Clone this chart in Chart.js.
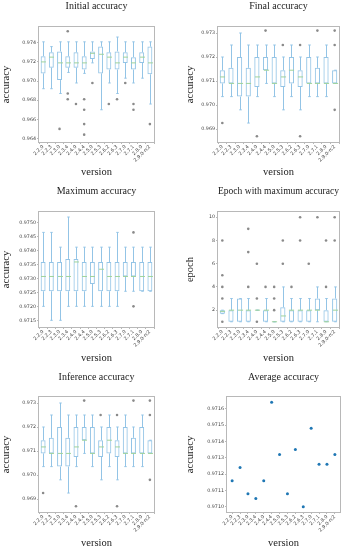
<!DOCTYPE html>
<html>
<head>
<meta charset="utf-8">
<script src="https://cdn.jsdelivr.net/npm/chart.js@4.4.0/dist/chart.umd.min.js"></script>
<style>
  body { margin: 0; background: #fff; }
  #wrap { position: relative; width: 346px; height: 550px; overflow: hidden; }
  canvas { position: absolute; }
</style>
</head>
<body>
<div id="wrap">
  <canvas id="initChart" width="173" height="181" style="left:0px;top:0px"></canvas>
  <canvas id="finalChart" width="162" height="181" style="left:184px;top:0px"></canvas>
  <canvas id="maxChart" width="173" height="181" style="left:0px;top:185px"></canvas>
  <canvas id="epochChart" width="162" height="181" style="left:184px;top:185px"></canvas>
  <canvas id="infChart" width="173" height="179" style="left:0px;top:371px"></canvas>
  <canvas id="avgChart" width="162" height="179" style="left:184px;top:371px"></canvas>
</div>
<script>
var versions = ['2.2.0', '2.2.3', '2.3.0', '2.3.4', '2.4.0', '2.4.4', '2.5.0', '2.5.3',
  '2.6.2', '2.6.3', '2.7.0', '2.7.1', '2.8.0', '2.9.0-rc2'];

// Initial accuracy
var initLo  = [0.9692, 0.9692, 0.9687, 0.9709, 0.9698, 0.9708, 0.9719, 0.9670, 0.9698, 0.9687, 0.9703, 0.9698, 0.9703, 0.9676];
var initQ1  = [0.9708, 0.9714, 0.9701, 0.9714, 0.9714, 0.9712, 0.9723, 0.9708, 0.9712, 0.9712, 0.9719, 0.9712, 0.9719, 0.9707];
var initMed = [0.9720, 0.9725, 0.9719, 0.9719, 0.9719, 0.9719, 0.9729, 0.9728, 0.9725, 0.9719, 0.9725, 0.9719, 0.9725, 0.9719];
var initQ3  = [0.9726, 0.9730, 0.9731, 0.9726, 0.9730, 0.9726, 0.9731, 0.9736, 0.9730, 0.9731, 0.9730, 0.9725, 0.9730, 0.9736];
var initHi  = [0.9741, 0.9736, 0.9741, 0.9741, 0.9741, 0.9741, 0.9741, 0.9741, 0.9741, 0.9746, 0.9741, 0.9741, 0.9741, 0.9741];
var initOut = [[], [], [0.9650], [0.9752, 0.9687, 0.9681], [0.9676], [0.9681, 0.9670, 0.9655, 0.9644], [0.9698], [],
  [0.9676], [0.9681], [0.9698], [0.9676, 0.9670], [], [0.9655]];

// Final accuracy
var finLo  = [0.97035, 0.97035, 0.9698, 0.96925, 0.97035, 0.9709, 0.97035, 0.9698, 0.97035, 0.9698, 0.97035, 0.97035, 0.97035, 0.9709];
var finQ1  = [0.9709, 0.9709, 0.97035, 0.97035, 0.97075, 0.97145, 0.9709, 0.97075, 0.9709, 0.97075, 0.9709, 0.9709, 0.9709, 0.9709];
var finMed = [0.97117, 0.9709, 0.9709, 0.9709, 0.97117, 0.97145, 0.9709, 0.97117, 0.97145, 0.97117, 0.9709, 0.9709, 0.9709, 0.9709];
var finQ3  = [0.97145, 0.97155, 0.9720, 0.97155, 0.9720, 0.9720, 0.9720, 0.97145, 0.9720, 0.97145, 0.9720, 0.97155, 0.9720, 0.97145];
var finHi  = [0.9720, 0.9725, 0.9730, 0.9725, 0.9725, 0.9725, 0.9725, 0.9720, 0.9725, 0.9720, 0.9725, 0.9720, 0.9725, 0.97145];
var finOut = [[0.96925], [], [], [], [0.9687], [0.9731], [], [0.9725], [], [0.9725, 0.9687], [], [0.9731], [], [0.9731, 0.9725, 0.9698]];

// Maximum accuracy
var maxLo  = [0.9720, 0.9715, 0.9715, 0.9720, 0.9720, 0.9720, 0.9720, 0.9720, 0.9720, 0.9720, 0.97254, 0.97254, 0.97254, 0.97254];
var maxQ1  = [0.97254, 0.97254, 0.97254, 0.97254, 0.97254, 0.97254, 0.9728, 0.97254, 0.97254, 0.97254, 0.97307, 0.97307, 0.97254, 0.97254];
var maxMed = [0.97307, 0.97307, 0.97307, 0.97307, 0.97359, 0.97307, 0.97307, 0.97333, 0.97307, 0.97307, 0.97307, 0.97307, 0.97307, 0.97307];
var maxQ3  = [0.97359, 0.97359, 0.97359, 0.9737, 0.9737, 0.97359, 0.97359, 0.97359, 0.97359, 0.97359, 0.97359, 0.97359, 0.97359, 0.97359];
var maxHi  = [0.97465, 0.97465, 0.97412, 0.9752, 0.97412, 0.97412, 0.97412, 0.97412, 0.97412, 0.97465, 0.97412, 0.97412, 0.97412, 0.97412];
var maxOut = [[], [], [], [], [], [], [], [], [], [], [], [0.97465, 0.9720], [], []];

// Epoch with maximum accuracy
var epLo  = [1.7, 1, 1, 1, 2, 1, 1, 1, 1, 1, 1, 1, 1, 1];
var epQ1  = [1.7, 1, 1, 1, 2, 1, 1, 1, 1, 1, 1, 2, 1, 1];
var epMed = [1.9, 2, 2, 2, 2, 2, 1, 1.5, 2, 2, 2, 2, 1, 2];
var epQ3  = [2, 2, 3, 2, 2, 2, 1, 2.25, 2, 2, 2, 3, 2, 3];
var epHi  = [2, 3, 3, 3, 2, 3, 1, 4, 3, 3, 3, 4, 3, 4];
var epOut = [[1, 3, 4, 5, 8], [], [], [4, 7, 9], [1, 3, 6], [4], [2, 3, 4], [6, 8], [4], [8, 10], [6], [10], [4, 8], [8, 10]];

// Inference accuracy
var infLo  = [0.97035, 0.97035, 0.9698, 0.96925, 0.97035, 0.9709, 0.97035, 0.9698, 0.97035, 0.9698, 0.97035, 0.97035, 0.97035, 0.9709];
var infQ1  = [0.9709, 0.9709, 0.97035, 0.97035, 0.97075, 0.97145, 0.9709, 0.97075, 0.9709, 0.97075, 0.9709, 0.9709, 0.9709, 0.9709];
var infMed = [0.97117, 0.9709, 0.9709, 0.9709, 0.97117, 0.97145, 0.9709, 0.97117, 0.97145, 0.97117, 0.9709, 0.9709, 0.9709, 0.9709];
var infQ3  = [0.97145, 0.97155, 0.9720, 0.97155, 0.9720, 0.9720, 0.9720, 0.97145, 0.9720, 0.97145, 0.9720, 0.97155, 0.9720, 0.97145];
var infHi  = [0.9720, 0.9725, 0.9730, 0.9725, 0.9725, 0.9725, 0.9725, 0.9720, 0.9725, 0.9720, 0.9725, 0.9720, 0.9725, 0.97145];
var infOut = [[0.96925], [], [], [], [0.9687], [0.9731], [], [0.9725], [], [0.9725, 0.9687], [], [0.9731], [], [0.9731, 0.9725, 0.9698]];

// Average accuracy
var avgAcc = [0.97116, 0.97124, 0.97108, 0.97105, 0.97116, 0.97164, 0.97132, 0.97108, 0.97135, 0.97100, 0.97148, 0.97126, 0.97126, 0.97132];

var boxColor = '#93c4e6';
var medColor = '#9fd39a';
var outColor = '#8a8a8a';
var frameColor = '#b8b8b8';
var tickColor = '#444';
var serif = '"Liberation Serif", "DejaVu Serif", serif';
var tickFont = { family: '"DejaVu Sans", sans-serif', size: 4.8 };
var labelFont = { family: serif, size: 10.5 };

// grey frame round the plot area
var framePlugin = {
  id: 'frame',
  beforeDatasetsDraw: function (chart) {
    var a = chart.chartArea, ctx = chart.ctx;
    ctx.save();
    ctx.strokeStyle = frameColor;
    ctx.lineWidth = 1;
    ctx.strokeRect(Math.round(a.left) - 0.5, Math.round(a.top) - 0.5,
      Math.round(a.right - a.left) + 1, Math.round(a.bottom - a.top) + 1);
    ctx.restore();
  }
};

// whiskers, caps and medians, placed with the chart's own scales
function whiskerPlugin(lo, q3, hi, med, q1) {
  return {
    id: 'whiskers',
    afterDatasetsDraw: function (chart) {
      var xs = chart.scales.x, ys = chart.scales.y, ctx = chart.ctx;
      var bars = chart.getDatasetMeta(0).data;
      ctx.save();
      ctx.lineWidth = 1;
      for (var i = 0; i < med.length; i++) {
        var x = Math.round(xs.getPixelForValue(i)) + 0.5;
        var w = bars[i].width;
        var cap = w / 4;
        ctx.strokeStyle = boxColor;
        ctx.beginPath();
        ctx.moveTo(x, ys.getPixelForValue(q1[i]));
        ctx.lineTo(x, ys.getPixelForValue(lo[i]));
        ctx.moveTo(x, ys.getPixelForValue(q3[i]));
        ctx.lineTo(x, ys.getPixelForValue(hi[i]));
        ctx.moveTo(x - cap, ys.getPixelForValue(lo[i]));
        ctx.lineTo(x + cap, ys.getPixelForValue(lo[i]));
        ctx.moveTo(x - cap, ys.getPixelForValue(hi[i]));
        ctx.lineTo(x + cap, ys.getPixelForValue(hi[i]));
        ctx.stroke();
        ctx.strokeStyle = medColor;
        ctx.beginPath();
        ctx.moveTo(x - w / 2, ys.getPixelForValue(med[i]));
        ctx.lineTo(x + w / 2, ys.getPixelForValue(med[i]));
        ctx.stroke();
      }
      ctx.restore();
    }
  };
}

function outlierPoints(outs) {
  var pts = [];
  outs.forEach(function (list, i) {
    list.forEach(function (v) { pts.push({ x: versions[i], y: v }); });
  });
  return pts;
}

function panelOptions(p) {
  var xTicks = {
    autoSkip: false, maxRotation: 45, minRotation: 45, padding: 0,
    color: tickColor, font: tickFont
  };
  if (p.xType) {
    xTicks.stepSize = 1;
    xTicks.includeBounds = false;
    xTicks.callback = function (v) { return versions[v]; };
  }
  return {
    responsive: false,
    animation: false,
    layout: { padding: { left: 0, right: p.padRight, top: 0, bottom: 0 } },
    plugins: {
      legend: { display: false },
      tooltip: { enabled: false },
      title: {
        display: true, text: p.title, fullSize: false, color: '#222',
        font: { family: serif, size: 10, weight: 'normal', lineHeight: 1.2 },
        padding: { top: 0, bottom: p.titleGap }
      }
    },
    scales: {
      x: {
        type: p.xType || 'category',
        offset: p.xType ? false : true,
        min: p.xMin, max: p.xMax,
        grid: { display: true, drawOnChartArea: false, drawTicks: true, tickLength: 2, color: frameColor },
        border: { display: false },
        ticks: xTicks,
        title: { display: true, text: 'version', color: '#222', font: labelFont, padding: { top: 0, bottom: p.xTitlePad } },
        afterFit: function (sc) { sc.height = p.xHeight; }
      },
      y: {
        min: p.yMin, max: p.yMax,
        grid: { display: true, drawOnChartArea: false, drawTicks: true, tickLength: 2, color: frameColor },
        border: { display: false },
        ticks: {
          stepSize: p.step, includeBounds: false, padding: 1, color: tickColor, font: tickFont,
          callback: function (v) { return v.toFixed(p.dec); }
        },
        title: { display: true, text: p.yTitle, color: '#222', font: labelFont, padding: { top: 0, bottom: 0 } },
        afterFit: function (sc) { sc.width = p.yWidth; }
      }
    }
  };
}

function boxChart(id, lo, q1, med, q3, hi, outs, p) {
  return new Chart(document.getElementById(id), {
    data: {
      labels: versions,
      datasets: [
        {
          type: 'bar',
          data: q1.map(function (v, i) { return [v, q3[i]]; }),
          backgroundColor: 'rgba(255,255,255,0)',
          borderColor: boxColor,
          borderWidth: 1,
          borderSkipped: false,
          barPercentage: 0.6,
          categoryPercentage: 1
        },
        {
          type: 'line',
          data: outlierPoints(outs),
          showLine: false,
          pointRadius: 1.3,
          pointBackgroundColor: outColor,
          pointBorderWidth: 0
        }
      ]
    },
    options: panelOptions(p),
    plugins: [framePlugin, whiskerPlugin(lo, q3, hi, med, q1)]
  });
}

boxChart('initChart', initLo, initQ1, initMed, initQ3, initHi, initOut, {
  title: 'Initial accuracy', yTitle: 'accuracy', padRight: 19, titleGap: 15,
  yWidth: 39, xHeight: 39, xTitlePad: 2.2, yMin: 0.96363, yMax: 0.97565, step: 0.002, dec: 3
});

boxChart('finalChart', finLo, finQ1, finMed, finQ3, finHi, finOut, {
  title: 'Final accuracy', yTitle: 'accuracy', padRight: 7, titleGap: 15,
  yWidth: 34, xHeight: 39, xTitlePad: 2.2, yMin: 0.96846, yMax: 0.97325, step: 0.001, dec: 3
});

boxChart('maxChart', maxLo, maxQ1, maxMed, maxQ3, maxHi, maxOut, {
  title: 'Maximum accuracy', yTitle: 'accuracy', padRight: 19, titleGap: 15,
  yWidth: 39, xHeight: 39, xTitlePad: 1.2, yMin: 0.97126, yMax: 0.97538, step: 0.0005, dec: 4
});

boxChart('epochChart', epLo, epQ1, epMed, epQ3, epHi, epOut, {
  title: 'Epoch with maximum accuracy', yTitle: 'epoch', padRight: 7, titleGap: 15,
  yWidth: 34, xHeight: 39, xTitlePad: 1.2, yMin: 0.55, yMax: 10.45, step: 2, dec: 0
});

boxChart('infChart', infLo, infQ1, infMed, infQ3, infHi, infOut, {
  title: 'Inference accuracy', yTitle: 'accuracy', padRight: 19, titleGap: 14,
  yWidth: 39, xHeight: 38, xTitlePad: 0, yMin: 0.96846, yMax: 0.97325, step: 0.001, dec: 3
});

// Average accuracy: plain scatter on a numeric x axis labelled with the versions
var avgOptions = panelOptions({
  title: 'Average accuracy', yTitle: 'accuracy', padRight: 6, titleGap: 14,
  yWidth: 43, xHeight: 38, xTitlePad: 0, yMin: 0.970968, yMax: 0.971672, step: 0.0001, dec: 4,
  xType: 'linear', xMin: -0.65, xMax: 13.65
});
new Chart(document.getElementById('avgChart'), {
  type: 'scatter',
  data: {
    datasets: [{
      data: avgAcc.map(function (v, i) { return { x: i, y: v }; }),
      pointRadius: 1.5,
      pointBackgroundColor: '#1f77b4',
      pointBorderWidth: 0
    }]
  },
  options: avgOptions,
  plugins: [framePlugin]
});
</script>
</body>
</html>
